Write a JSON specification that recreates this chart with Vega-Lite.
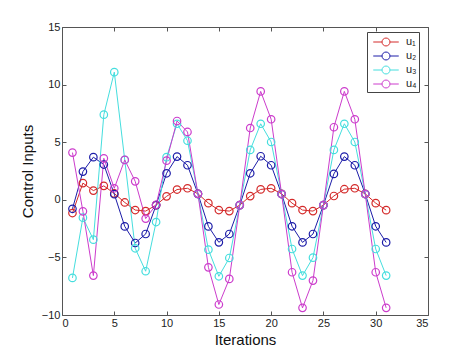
{
  "$schema": "https://vega.github.io/schema/vega-lite/v6.json",
  "width": 366,
  "height": 288,
  "autosize": {"type": "none"},
  "padding": {"left": 62, "top": 27, "right": 46, "bottom": 40},
  "background": "white",
  "config": {
    "font": "Liberation Sans",
    "view": {"stroke": null},
    "axis": {
      "grid": false,
      "domainColor": "#555555",
      "domainWidth": 1,
      "tickColor": "#555555",
      "tickSize": -4,
      "labelColor": "#222222",
      "labelFontSize": 11,
      "labelFont": "Liberation Sans",
      "titleFont": "Liberation Sans",
      "titleFontSize": 15,
      "titleFontWeight": "normal",
      "titleColor": "#111111"
    },
    "legend": {
      "orient": "none",
      "legendX": 305,
      "legendY": 5,
      "strokeColor": "#444444",
      "fillColor": "white",
      "padding": 2,
      "rowPadding": 0,
      "symbolOffset": 9,
      "symbolSize": 225,
      "symbolStrokeWidth": 1,
      "symbolType": "M-1.7,0L-0.53,0M0.53,0L1.7,0M0.53,0A0.53,0.53,0,1,1,-0.53,0A0.53,0.53,0,1,1,0.53,0",
      "labelOffset": 12,
      "labelFontSize": 11,
      "labelColor": "#222222",
      "labelFont": "Liberation Sans"
    }
  },
  "data": {
    "values": [
      {"it":1,"s":"u₁","v":-1.15},{"it":2,"s":"u₁","v":1.45},{"it":3,"s":"u₁","v":0.8},{"it":4,"s":"u₁","v":1.21},{"it":5,"s":"u₁","v":0.55},{"it":6,"s":"u₁","v":-0.23},{"it":7,"s":"u₁","v":-0.89},{"it":8,"s":"u₁","v":-0.98},{"it":9,"s":"u₁","v":-0.46},{"it":10,"s":"u₁","v":0.3},{"it":11,"s":"u₁","v":0.89},{"it":12,"s":"u₁","v":1.0},{"it":13,"s":"u₁","v":0.52},{"it":14,"s":"u₁","v":-0.29},{"it":15,"s":"u₁","v":-0.89},{"it":16,"s":"u₁","v":-0.98},{"it":17,"s":"u₁","v":-0.46},{"it":18,"s":"u₁","v":0.32},{"it":19,"s":"u₁","v":0.9},{"it":20,"s":"u₁","v":1.0},{"it":21,"s":"u₁","v":0.52},{"it":22,"s":"u₁","v":-0.29},{"it":23,"s":"u₁","v":-0.89},{"it":24,"s":"u₁","v":-0.98},{"it":25,"s":"u₁","v":-0.46},{"it":26,"s":"u₁","v":0.33},{"it":27,"s":"u₁","v":0.92},{"it":28,"s":"u₁","v":1.0},{"it":29,"s":"u₁","v":0.52},{"it":30,"s":"u₁","v":-0.29},{"it":31,"s":"u₁","v":-0.9},
      {"it":1,"s":"u₂","v":-0.78},{"it":2,"s":"u₂","v":2.45},{"it":3,"s":"u₂","v":3.7},{"it":4,"s":"u₂","v":3.06},{"it":5,"s":"u₂","v":0.49},{"it":6,"s":"u₂","v":-2.31},{"it":7,"s":"u₂","v":-3.75},{"it":8,"s":"u₂","v":-2.97},{"it":9,"s":"u₂","v":-0.46},{"it":10,"s":"u₂","v":2.3},{"it":11,"s":"u₂","v":3.75},{"it":12,"s":"u₂","v":3.0},{"it":13,"s":"u₂","v":0.52},{"it":14,"s":"u₂","v":-2.31},{"it":15,"s":"u₂","v":-3.69},{"it":16,"s":"u₂","v":-2.97},{"it":17,"s":"u₂","v":-0.46},{"it":18,"s":"u₂","v":2.3},{"it":19,"s":"u₂","v":3.78},{"it":20,"s":"u₂","v":3.0},{"it":21,"s":"u₂","v":0.5},{"it":22,"s":"u₂","v":-2.3},{"it":23,"s":"u₂","v":-3.7},{"it":24,"s":"u₂","v":-2.97},{"it":25,"s":"u₂","v":-0.46},{"it":26,"s":"u₂","v":2.25},{"it":27,"s":"u₂","v":3.75},{"it":28,"s":"u₂","v":3.0},{"it":29,"s":"u₂","v":0.5},{"it":30,"s":"u₂","v":-2.3},{"it":31,"s":"u₂","v":-3.7},
      {"it":1,"s":"u₃","v":-6.78},{"it":2,"s":"u₃","v":-1.55},{"it":3,"s":"u₃","v":-3.46},{"it":4,"s":"u₃","v":7.39},{"it":5,"s":"u₃","v":11.08},{"it":6,"s":"u₃","v":3.46},{"it":7,"s":"u₃","v":-4.21},{"it":8,"s":"u₃","v":-6.2},{"it":9,"s":"u₃","v":-1.93},{"it":10,"s":"u₃","v":3.7},{"it":11,"s":"u₃","v":6.6},{"it":12,"s":"u₃","v":5.13},{"it":13,"s":"u₃","v":0.5},{"it":14,"s":"u₃","v":-4.33},{"it":15,"s":"u₃","v":-6.64},{"it":16,"s":"u₃","v":-5.05},{"it":17,"s":"u₃","v":-0.46},{"it":18,"s":"u₃","v":4.33},{"it":19,"s":"u₃","v":6.6},{"it":20,"s":"u₃","v":5.02},{"it":21,"s":"u₃","v":0.5},{"it":22,"s":"u₃","v":-4.27},{"it":23,"s":"u₃","v":-6.58},{"it":24,"s":"u₃","v":-5.02},{"it":25,"s":"u₃","v":-0.46},{"it":26,"s":"u₃","v":4.33},{"it":27,"s":"u₃","v":6.6},{"it":28,"s":"u₃","v":5.02},{"it":29,"s":"u₃","v":0.5},{"it":30,"s":"u₃","v":-4.27},{"it":31,"s":"u₃","v":-6.58},
      {"it":1,"s":"u₄","v":4.1},{"it":2,"s":"u₄","v":-1.0},{"it":3,"s":"u₄","v":-6.58},{"it":4,"s":"u₄","v":3.6},{"it":5,"s":"u₄","v":1.0},{"it":6,"s":"u₄","v":3.46},{"it":7,"s":"u₄","v":1.6},{"it":8,"s":"u₄","v":-1.63},{"it":9,"s":"u₄","v":-0.43},{"it":10,"s":"u₄","v":3.4},{"it":11,"s":"u₄","v":6.84},{"it":12,"s":"u₄","v":5.89},{"it":13,"s":"u₄","v":0.52},{"it":14,"s":"u₄","v":-5.86},{"it":15,"s":"u₄","v":-9.09},{"it":16,"s":"u₄","v":-6.87},{"it":17,"s":"u₄","v":-0.46},{"it":18,"s":"u₄","v":6.23},{"it":19,"s":"u₄","v":9.41},{"it":20,"s":"u₄","v":6.99},{"it":21,"s":"u₄","v":0.5},{"it":22,"s":"u₄","v":-6.29},{"it":23,"s":"u₄","v":-9.38},{"it":24,"s":"u₄","v":-7.01},{"it":25,"s":"u₄","v":-0.46},{"it":26,"s":"u₄","v":6.3},{"it":27,"s":"u₄","v":9.41},{"it":28,"s":"u₄","v":6.99},{"it":29,"s":"u₄","v":0.5},{"it":30,"s":"u₄","v":-6.29},{"it":31,"s":"u₄","v":-9.38}
    ]
  },
  "layer": [
    {
      "mark": {"type": "line", "strokeWidth": 1, "point": {"filled": false, "size": 56, "strokeWidth": 1.2}},
      "encoding": {
        "x": {"field": "it", "type": "quantitative", "scale": {"domain": [0, 35], "nice": false, "zero": false},
              "axis": {"orient": "bottom", "values": [0,5,10,15,20,25,30,35], "title": "Iterations", "titlePadding": 4, "labelPadding": 6}},
        "y": {"field": "v", "type": "quantitative", "scale": {"domain": [-10, 15], "nice": false, "zero": false},
              "axis": {"orient": "left", "values": [-10,-5,0,5,10,15], "title": "Control Inputs", "titlePadding": 6, "labelPadding": 6}},
        "color": {"field": "s", "type": "nominal", "title": null,
                  "scale": {"domain": ["u₁","u₂","u₃","u₄"], "range": ["#d42a2a","#1c1ca8","#45dede","#cc3ccc"]}}
      }
    },
    {
      "mark": {"type": "line", "opacity": 0},
      "encoding": {
        "x": {"field": "it", "type": "quantitative", "scale": {"domain": [0, 35], "nice": false, "zero": false},
              "axis": {"orient": "top", "values": [0,5,10,15,20,25,30,35], "labels": false, "title": null}},
        "y": {"field": "v", "type": "quantitative", "scale": {"domain": [-10, 15], "nice": false, "zero": false},
              "axis": {"orient": "right", "values": [-10,-5,0,5,10,15], "labels": false, "title": null}}
      }
    }
  ],
  "resolve": {"axis": {"x": "independent", "y": "independent"}}
}
